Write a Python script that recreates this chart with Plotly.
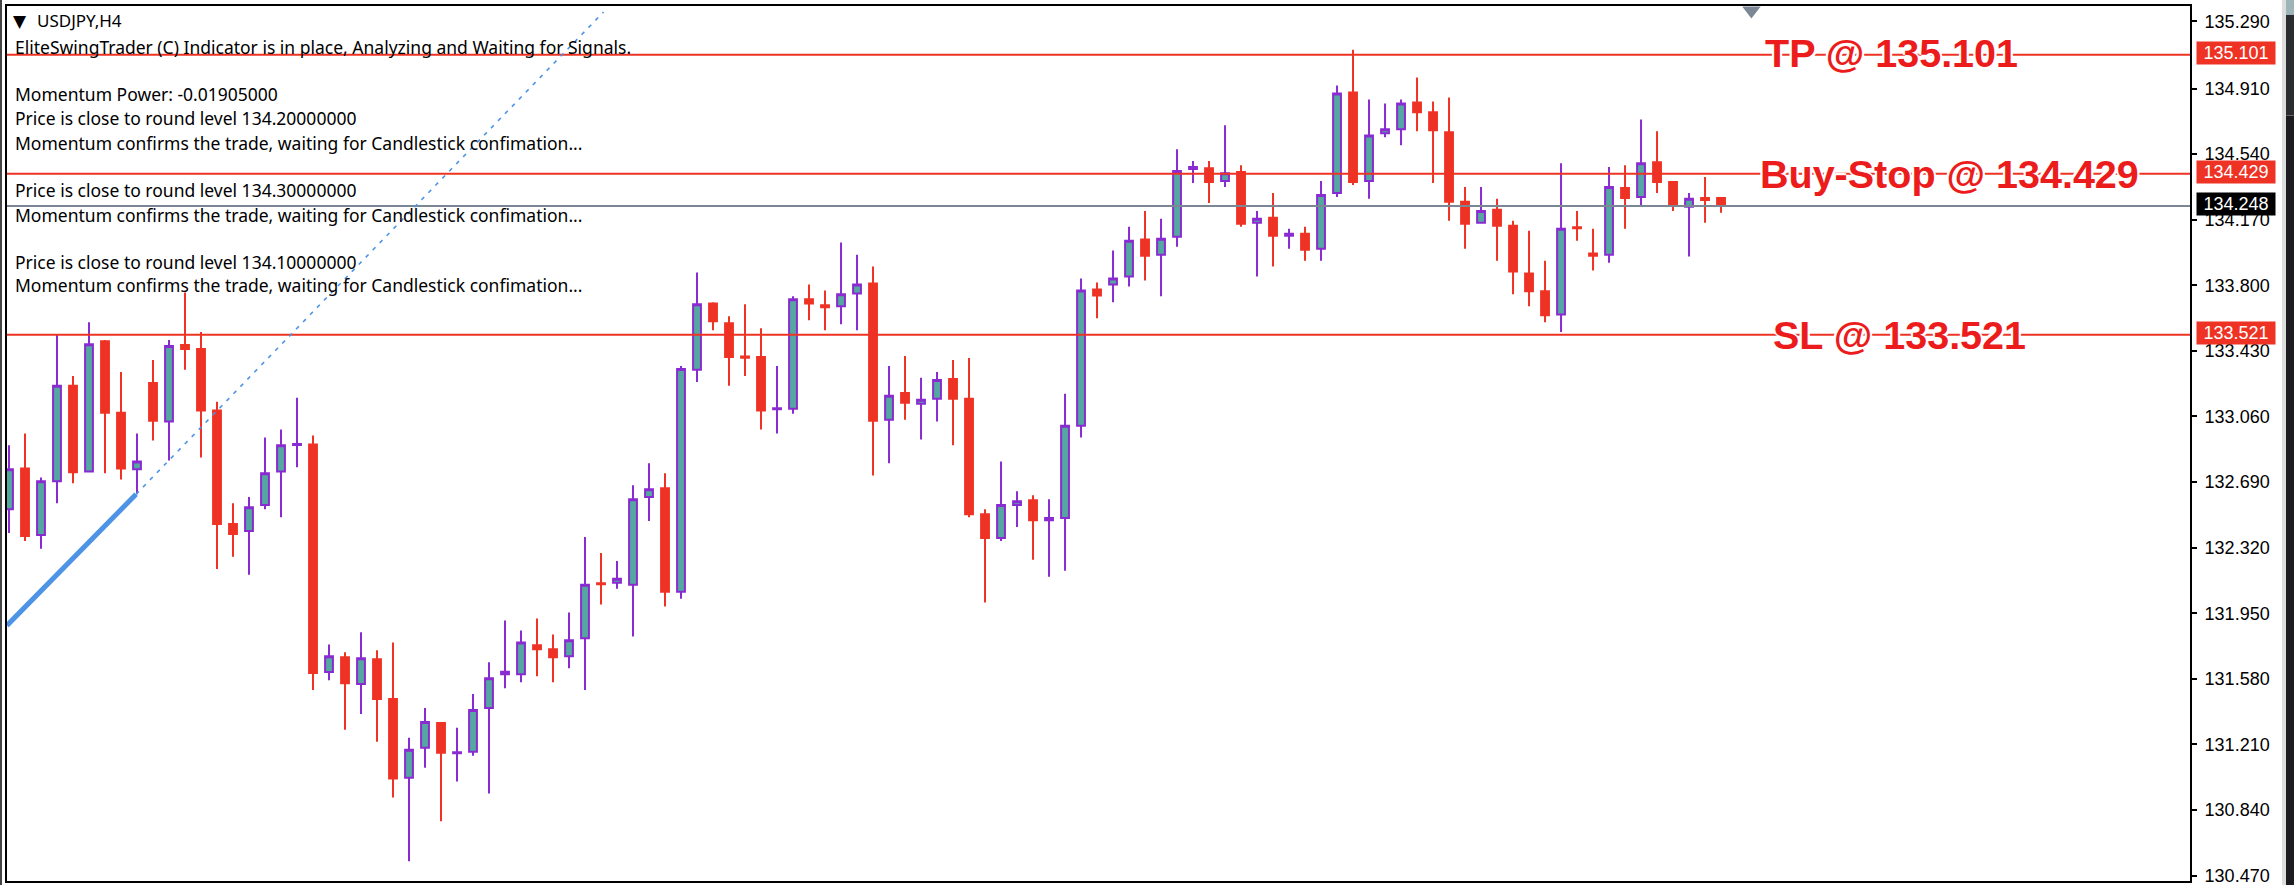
import plotly.graph_objects as go

W, H = 2294, 890
L, R, T, B = 7, 104, 6, 4

opens = [132.537, 132.767, 132.391, 132.694, 133.233, 132.750, 133.485, 133.081, 132.762, 133.249,
         133.031, 133.463, 133.440, 133.093, 132.453, 132.414, 132.560, 132.750, 132.899, 132.902,
         131.618, 131.701, 131.550, 131.690, 131.466, 131.022, 131.191, 131.331, 131.160, 131.168,
         131.415, 131.606, 131.606, 131.769, 131.746, 131.707, 131.808, 132.119, 132.122, 132.110,
         132.605, 132.655, 132.071, 133.323, 133.698, 133.586, 133.398, 133.395, 133.101, 133.104,
         133.721, 133.687, 133.682, 133.754, 133.810, 133.042, 133.193, 133.132, 133.160, 133.272,
         133.160, 132.509, 132.375, 132.560, 132.587, 132.475, 132.487, 133.008, 133.776, 133.805,
         133.850, 134.058, 133.973, 134.074, 134.456, 134.461, 134.388, 134.439, 134.153, 134.181,
         134.080, 134.091, 134.007, 134.321, 134.888, 134.388, 134.658, 134.680, 134.832, 134.776,
         134.663, 134.271, 134.153, 134.226, 134.136, 133.867, 133.766, 133.636, 134.128, 133.979,
         133.973, 134.349, 134.299, 134.495, 134.383, 134.243, 134.293, 134.293]
highs = [132.897, 132.964, 132.716, 133.519, 133.289, 133.592, 133.491, 133.311, 132.964, 133.379,
         133.491, 133.760, 133.536, 133.143, 132.571, 132.605, 132.941, 132.986, 133.166, 132.952,
         131.774, 131.729, 131.842, 131.741, 131.785, 131.247, 131.415, 131.336, 131.303, 131.494,
         131.673, 131.909, 131.853, 131.920, 131.830, 131.954, 132.380, 132.290, 132.245, 132.672,
         132.796, 132.739, 133.345, 133.872, 133.704, 133.626, 133.693, 133.558, 133.345, 133.738,
         133.805, 133.771, 134.041, 133.973, 133.906, 133.345, 133.401, 133.278, 133.311, 133.379,
         133.390, 132.537, 132.806, 132.638, 132.616, 132.593, 133.188, 133.838, 133.816, 133.996,
         134.130, 134.220, 134.175, 134.568, 134.501, 134.501, 134.703, 134.478, 134.220, 134.321,
         134.119, 134.130, 134.388, 134.927, 135.129, 134.849, 134.826, 134.849, 134.972, 134.837,
         134.860, 134.355, 134.355, 134.288, 134.164, 134.108, 133.939, 134.489, 134.220, 134.119,
         134.467, 134.478, 134.736, 134.669, 134.388, 134.321, 134.411, 134.299]
lows = [132.403, 132.358, 132.313, 132.571, 132.683, 132.745, 132.739, 132.705, 132.621, 132.924,
        132.812, 133.323, 132.828, 132.200, 132.268, 132.167, 132.537, 132.492, 132.773, 131.516,
        131.572, 131.292, 131.381, 131.224, 130.910, 130.551, 131.078, 130.776, 131.000, 131.146,
        130.933, 131.527, 131.561, 131.594, 131.561, 131.639, 131.516, 131.999, 132.088, 131.819,
        132.470, 131.988, 132.032, 133.255, 133.547, 133.233, 133.289, 132.986, 132.964, 133.076,
        133.603, 133.547, 133.581, 133.547, 132.727, 132.796, 133.042, 132.930, 133.031, 132.897,
        132.492, 132.010, 132.358, 132.436, 132.252, 132.156, 132.189, 132.941, 133.614, 133.704,
        133.794, 133.827, 133.738, 134.018, 134.377, 134.265, 134.355, 134.130, 133.850, 133.906,
        134.007, 133.939, 133.939, 134.299, 134.366, 134.288, 134.635, 134.590, 134.669, 134.377,
        134.164, 134.007, 134.147, 133.939, 133.749, 133.682, 133.592, 133.536, 134.052, 133.883,
        133.928, 134.119, 134.243, 134.321, 134.220, 133.962, 134.153, 134.209]
closes = [132.762, 132.386, 132.694, 133.233, 132.745, 133.468, 133.081, 132.767, 132.806, 133.036,
          133.457, 133.440, 133.093, 132.453, 132.397, 132.548, 132.739, 132.897, 132.905, 131.612,
          131.707, 131.555, 131.696, 131.466, 131.017, 131.180, 131.336, 131.163, 131.166, 131.404,
          131.583, 131.620, 131.785, 131.746, 131.701, 131.797, 132.110, 132.113, 132.144, 132.593,
          132.649, 132.071, 133.328, 133.693, 133.597, 133.395, 133.392, 133.093, 133.107, 133.721,
          133.698, 133.676, 133.749, 133.805, 133.036, 133.177, 133.137, 133.154, 133.266, 133.160,
          132.509, 132.375, 132.560, 132.582, 132.475, 132.487, 133.008, 133.771, 133.743, 133.838,
          134.052, 133.967, 134.063, 134.445, 134.467, 134.383, 134.433, 134.147, 134.175, 134.080,
          134.091, 134.001, 134.310, 134.882, 134.383, 134.646, 134.680, 134.826, 134.776, 134.675,
          134.271, 134.147, 134.220, 134.136, 133.878, 133.766, 133.631, 134.119, 134.122, 133.967,
          134.355, 134.293, 134.489, 134.383, 134.259, 134.288, 134.282, 134.248]
bars = list(range(len(opens)))

tick_prices = [135.290, 134.910, 134.540, 134.170, 133.800, 133.430, 133.060, 132.690,
               132.320, 131.950, 131.580, 131.210, 130.840, 130.470]
tp_level = 135.101
entry_level = 134.429
sl_level = 133.521
bid_level = 134.248

trend_solid_x = [-0.125, 7.94]
trend_solid_y = [131.881, 132.621]
trend_dash_x = [7.94, 37.16]
trend_dash_y = [132.621, 135.342]

info_lines = [
    ("EliteSwingTrader (C) Indicator is in place, Analyzing and Waiting for Signals.", 47),
    ("Momentum Power: -0.01905000", 95),
    ("Price is close to round level 134.20000000", 119),
    ("Momentum confirms the trade, waiting for Candlestick confimation...", 144),
    ("Price is close to round level 134.30000000", 191),
    ("Momentum confirms the trade, waiting for Candlestick confimation...", 216),
    ("Price is close to round level 134.10000000", 263),
    ("Momentum confirms the trade, waiting for Candlestick confimation...", 287),
]

RED = "#EE3224"
PURPLE = "#8A2BD2"
TEAL = "#54A8A0"
GREY = "#7B8794"
BLUE = "#4D94E6"
X_RANGE = [-0.125, 136.31]
Y_RANGE = [130.439, 135.376]


def px(x):
    return (x - L) / (W - L - R)


def py(y):
    return 1 - (y - T) / (H - T - B)


fig = go.Figure()

# bid line sits behind the candles, order lines on top
fig.add_trace(go.Scatter(x=X_RANGE, y=[bid_level, bid_level], mode="lines",
                         line=dict(color=GREY, width=2), hoverinfo="skip"))
fig.add_trace(go.Candlestick(
    x=bars, open=opens, high=highs, low=lows, close=closes,
    increasing=dict(line=dict(color=PURPLE, width=2), fillcolor=TEAL),
    decreasing=dict(line=dict(color=RED, width=2), fillcolor=RED),
    whiskerwidth=0,
))
for lvl in [tp_level, entry_level, sl_level]:
    fig.add_trace(go.Scatter(x=X_RANGE, y=[lvl, lvl], mode="lines",
                             line=dict(color=RED, width=2), hoverinfo="skip"))
fig.add_trace(go.Scatter(x=trend_solid_x, y=trend_solid_y, mode="lines",
                         line=dict(color=BLUE, width=5), hoverinfo="skip"))
fig.add_trace(go.Scatter(x=trend_dash_x, y=trend_dash_y, mode="lines",
                         line=dict(color=BLUE, width=1.6, dash="4px,6px"), hoverinfo="skip"))
# little grey marker hanging from the top border
fig.add_trace(go.Scatter(x=[108.9], y=[135.35], mode="markers",
                         marker=dict(symbol="triangle-down", size=16, color=GREY, line_width=0),
                         hoverinfo="skip"))

halo = "2px 0 0 #fff, -2px 0 0 #fff, 0 2px 0 #fff, 0 -2px 0 #fff, 2px 2px 0 #fff, -2px -2px 0 #fff"
big_font = dict(family="Liberation Sans", size=39.5, color="#EC1C1C", weight="bold", shadow=halo)
labels = [("TP @ {:.3f}".format(tp_level), 1891, tp_level, 2),
          ("Buy-Stop @ {:.3f}".format(entry_level), 1949, entry_level, 0),
          ("SL @ {:.3f}".format(sl_level), 1899, sl_level, 0)]
for text, xc, lvl, dy in labels:
    fig.add_annotation(text=text, xref="paper", x=px(xc), yref="y", y=lvl, yshift=dy,
                       showarrow=False, font=big_font, xanchor="center", yanchor="middle")

# price tags on the scale
for lvl, col in [(tp_level, RED), (entry_level, RED), (sl_level, RED), (bid_level, "#000000")]:
    fig.add_annotation(text="{:.3f}".format(lvl), xref="paper", x=px(2196), yref="y", y=lvl, yshift=2,
                       showarrow=False, xanchor="left", yanchor="middle", width=78, height=22,
                       align="center", valign="middle", bgcolor=col, borderpad=0,
                       font=dict(family="Liberation Sans", size=18, color="#FFFFFF"))

for text, y in info_lines:
    fig.add_annotation(text=text, xref="paper", x=px(12.5), yref="paper", y=py(y), showarrow=False,
                       xanchor="left", yanchor="middle",
                       font=dict(family="Noto Sans", size=17.5, color="#000000"))
fig.add_annotation(text="▼", xref="paper", x=px(11), yref="paper", y=py(21), showarrow=False,
                   xanchor="left", yanchor="middle", font=dict(family="DejaVu Sans", size=17, color="#000000"))
fig.add_annotation(text="USDJPY,H4", xref="paper", x=px(35), yref="paper", y=py(21), showarrow=False,
                   xanchor="left", yanchor="middle", font=dict(family="Noto Sans", size=17, color="#000000"))

# window edges either side of the chart
edges = [(0, 2, 0, 890, "#444444"), (2282, 2286, 0, 890, "#DDDDDD"), (2286, 2294, 0, 15, "#9DB4B8"),
         (2286, 2294, 15, 116, "#2A2D30"), (2286, 2294, 116, 890, "#1C1C20")]
for x0, x1, y0, y1, col in edges:
    fig.add_shape(type="rect", xref="paper", yref="paper", x0=px(x0), x1=px(x1), y0=py(y1), y1=py(y0),
                  fillcolor=col, line_width=0)

fig.update_layout(
    width=W, height=H,
    margin=dict(l=L, r=R, t=T, b=B),
    paper_bgcolor="#FFFFFF",
    plot_bgcolor="#FFFFFF",
    showlegend=False,
    xaxis=dict(range=X_RANGE, rangeslider_visible=False, showgrid=False, zeroline=False,
               showticklabels=False, ticks="", showline=True, linecolor="#000000", linewidth=2, mirror=True),
    yaxis=dict(range=Y_RANGE, side="right", showgrid=False, zeroline=False,
               tickvals=tick_prices, ticktext=["{:.3f}".format(v) for v in tick_prices],
               ticks="outside", ticklen=5, tickwidth=2, tickcolor="#000000", ticklabelstandoff=4,
               ticklabeloverflow="allow",
               tickfont=dict(family="Liberation Sans", size=18, color="#000000"),
               showline=True, linecolor="#000000", linewidth=2, mirror=True),
)

fig.write_html("out.html", config={"displayModeBar": False}, post_script="document.body.style.margin='0';")
